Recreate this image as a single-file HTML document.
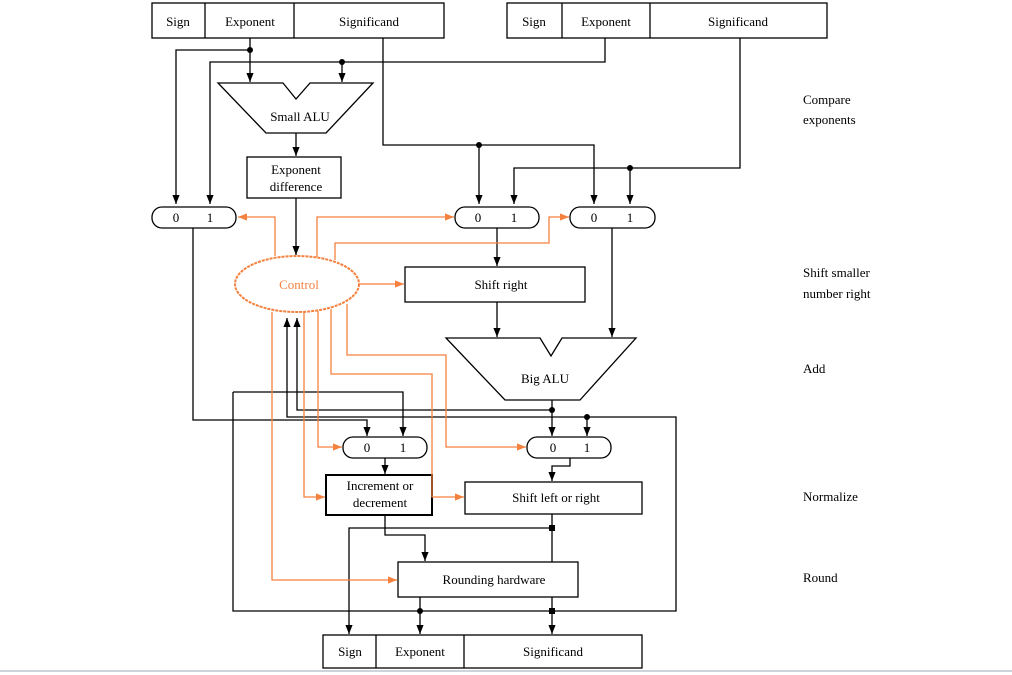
<!DOCTYPE html>
<html><head><meta charset="utf-8"><style>
html,body{margin:0;padding:0;background:#fff;}
svg{display:block;font-family:"Liberation Serif",serif;font-size:13px;}
</style></head><body>
<svg width="1012" height="675" viewBox="0 0 1012 675" xmlns="http://www.w3.org/2000/svg">
<defs>
<marker id="a" viewBox="0 0 10 10" refX="10" refY="5" markerWidth="7" markerHeight="7" orient="auto"><path d="M0,1L10,5L0,9z" fill="#000"/></marker>
<marker id="o" viewBox="0 0 10 10" refX="10" refY="5" markerWidth="7" markerHeight="7" orient="auto"><path d="M0,1L10,5L0,9z" fill="#f5813f"/></marker>
</defs>
<g fill="none" stroke="#000" stroke-width="1.3">
<!-- top boxes -->
<rect x="152" y="3" width="292" height="35"/><line x1="205" y1="3" x2="205" y2="38"/><line x1="294" y1="3" x2="294" y2="38"/>
<rect x="507" y="3" width="320" height="35"/><line x1="562" y1="3" x2="562" y2="38"/><line x1="650" y1="3" x2="650" y2="38"/>
<!-- exponent wires -->
<polyline points="250,38 250,50 176,50 176,204" marker-end="url(#a)"/>
<line x1="250" y1="50" x2="250" y2="82" marker-end="url(#a)"/>
<polyline points="605,38 605,62 210,62 210,204" marker-end="url(#a)"/>
<line x1="342" y1="62" x2="342" y2="82" marker-end="url(#a)"/>
<!-- small ALU -->
<polygon points="218,83 283,83 296,99 310,83 373,83 326,133 266,133"/>
<line x1="296" y1="133" x2="296" y2="156" marker-end="url(#a)"/>
<rect x="247" y="157" width="94" height="41"/>
<line x1="296" y1="198" x2="296" y2="255" marker-end="url(#a)"/>
<!-- significand wires -->
<polyline points="383,38 383,145 594,145 594,204" marker-end="url(#a)"/>
<line x1="479" y1="145" x2="479" y2="204" marker-end="url(#a)"/>
<polyline points="740,38 740,168 514,168 514,204" marker-end="url(#a)"/>
<line x1="630" y1="168" x2="630" y2="204" marker-end="url(#a)"/>
<!-- muxes -->
<rect x="152" y="207" width="84" height="21" rx="10"/>
<rect x="455" y="207" width="84" height="21" rx="10"/>
<rect x="570" y="207" width="85" height="21" rx="10"/>
<rect x="343" y="437" width="84" height="21" rx="10"/>
<rect x="527" y="437" width="84" height="21" rx="10"/>
<line x1="497" y1="228" x2="497" y2="266" marker-end="url(#a)"/>
<rect x="405" y="267" width="180" height="35"/>
<line x1="497" y1="302" x2="497" y2="337" marker-end="url(#a)"/>
<line x1="612" y1="228" x2="612" y2="337" marker-end="url(#a)"/>
<polygon points="446,338 540,338 551,356 562,338 636,338 580,400 505,400"/>
<!-- lower -->
<polyline points="193,228 193,420 367,420 367,436" marker-end="url(#a)"/>
<polyline points="233,392 403,392 403,436" marker-end="url(#a)"/>
<polyline points="233,392 233,611 676,611 676,417 287,417 287,318" marker-end="url(#a)"/>
<polyline points="552,410 297,410 297,318" marker-end="url(#a)"/>
<line x1="552" y1="400" x2="552" y2="436" marker-end="url(#a)"/>
<line x1="587" y1="417" x2="587" y2="436" marker-end="url(#a)"/>
<line x1="385" y1="458" x2="385" y2="474" marker-end="url(#a)"/>
<polyline points="570,458 570,466 552,466 552,481" marker-end="url(#a)"/>
<rect x="326" y="475" width="106" height="40" stroke-width="2"/>
<rect x="465" y="482" width="177" height="32"/>
<polyline points="385,515 385,535 425,535 425,561" marker-end="url(#a)"/>
<line x1="552" y1="514" x2="552" y2="562"/>
<polyline points="552,528 349,528 349,634" marker-end="url(#a)"/>
<rect x="398" y="562" width="180" height="35"/>
<line x1="420" y1="597" x2="420" y2="634" marker-end="url(#a)"/>
<line x1="552" y1="597" x2="552" y2="634" marker-end="url(#a)"/>
<rect x="323" y="635" width="319" height="33"/><line x1="376" y1="635" x2="376" y2="668"/><line x1="464" y1="635" x2="464" y2="668"/>
</g>
<g fill="#000">
<circle cx="250" cy="50" r="3"/><circle cx="342" cy="62" r="3"/><circle cx="479" cy="145" r="3"/><circle cx="630" cy="168" r="3"/>
<circle cx="552" cy="410" r="3"/><circle cx="587" cy="417" r="3"/><circle cx="420" cy="611" r="3"/>
<rect x="549" y="525" width="6" height="6"/><rect x="549" y="608" width="6" height="6"/>
</g>
<!-- orange -->
<g fill="none" stroke="#f5813f" stroke-width="1.3">
<ellipse cx="297" cy="284" rx="62" ry="28" stroke-width="2" stroke-dasharray="3,1"/>
<polyline points="275,256 275,217 238,217" marker-end="url(#o)"/>
<polyline points="317,257 317,217 454,217" marker-end="url(#o)"/>
<polyline points="335,260 335,243 549,243 549,217 569,217" marker-end="url(#o)"/>
<line x1="359" y1="284" x2="404" y2="284" marker-end="url(#o)"/>
<polyline points="272,312 272,580 397,580" marker-end="url(#o)"/>
<polyline points="304,312 304,497 325,497" marker-end="url(#o)"/>
<polyline points="318,311 318,447 342,447" marker-end="url(#o)"/>
<polyline points="331,309 331,374 432,374 432,497 464,497" marker-end="url(#o)"/>
<polyline points="347,304 347,355 446,355 446,447 526,447" marker-end="url(#o)"/>
</g>
<g fill="#000">
<text x="178" y="26" text-anchor="middle">Sign</text><text x="250" y="26" text-anchor="middle">Exponent</text><text x="369" y="26" text-anchor="middle">Significand</text>
<text x="534" y="26" text-anchor="middle">Sign</text><text x="606" y="26" text-anchor="middle">Exponent</text><text x="738" y="26" text-anchor="middle">Significand</text>
<text x="300" y="121" text-anchor="middle">Small ALU</text>
<text x="296" y="174" text-anchor="middle">Exponent</text><text x="296" y="191" text-anchor="middle">difference</text>
<text x="176" y="222" text-anchor="middle">0</text><text x="210" y="222" text-anchor="middle">1</text>
<text x="478" y="222" text-anchor="middle">0</text><text x="514" y="222" text-anchor="middle">1</text>
<text x="594" y="222" text-anchor="middle">0</text><text x="630" y="222" text-anchor="middle">1</text>
<text x="367" y="452" text-anchor="middle">0</text><text x="403" y="452" text-anchor="middle">1</text>
<text x="553" y="452" text-anchor="middle">0</text><text x="587" y="452" text-anchor="middle">1</text>
<text x="501" y="289" text-anchor="middle">Shift right</text>
<text x="545" y="383" text-anchor="middle">Big ALU</text>
<text x="380" y="490" text-anchor="middle">Increment or</text><text x="380" y="507" text-anchor="middle">decrement</text>
<text x="556" y="502" text-anchor="middle">Shift left or right</text>
<text x="494" y="584" text-anchor="middle">Rounding hardware</text>
<text x="350" y="656" text-anchor="middle">Sign</text><text x="420" y="656" text-anchor="middle">Exponent</text><text x="553" y="656" text-anchor="middle">Significand</text>
<text x="803" y="104">Compare</text><text x="803" y="124">exponents</text>
<text x="803" y="277">Shift smaller</text><text x="803" y="298">number right</text>
<text x="803" y="373">Add</text><text x="803" y="501">Normalize</text><text x="803" y="582">Round</text>
</g>
<text x="299" y="289" text-anchor="middle" fill="#f5813f">Control</text>
<line x1="0" y1="671" x2="1012" y2="671" stroke="#cfd3dc" stroke-width="2"/>
</svg>
</body></html>
